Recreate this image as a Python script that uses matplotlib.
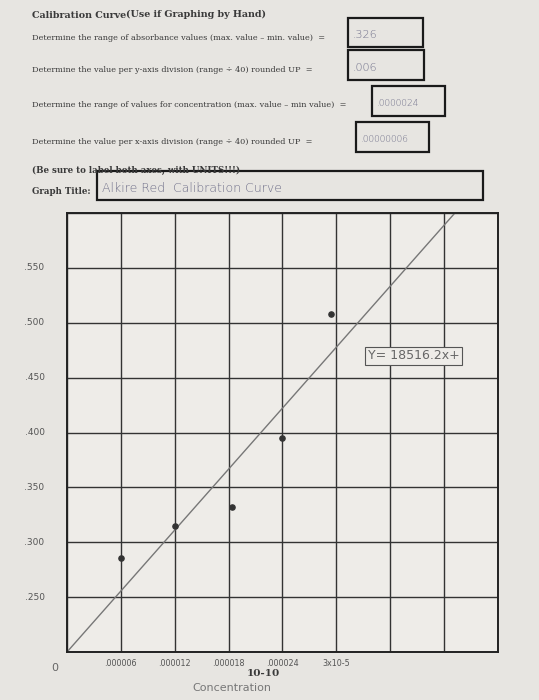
import matplotlib
matplotlib.use("Agg")
import matplotlib.pyplot as plt
from matplotlib.patches import Rectangle

conc = [0.000006, 0.000012, 0.0000184, 0.000024, 0.0000294]
absorb = [0.286, 0.315, 0.332, 0.395, 0.508]
line_x = [0, 0.0000432]
line_y = [0.200, 0.600]
ytick_vals = [0.250, 0.300, 0.350, 0.400, 0.450, 0.500, 0.550]
ytick_labels = [".250", ".300", ".350", ".400", ".450", ".500", ".550"]
xtick_vals = [0.000006, 0.000012, 0.000018, 0.000024, 0.000030]
xtick_labels = [".000006", ".000012", ".000018", ".000024", "3x10-5"]

W, H = 539, 700
fig = plt.figure(figsize=(5.39, 7.0), dpi=100)
fig.patch.set_facecolor("#e7e5e1")

def fx(px): return px / W
def fy(py): return 1 - py / H

serif = "DejaVu Serif"
hand = "DejaVu Sans"
tc = "#3a3a3a"
fig.text(fx(32), fy(15), "Calibration Curve", fontsize=6.8, family=serif, weight="bold", color=tc, va="center")
fig.text(fx(126), fy(14), "(Use if Graphing by Hand)", fontsize=6.8, family=serif, weight="bold", color=tc, va="center")
rows = [(38, "Determine the range of absorbance values (max. value \u2013 min. value)  ="),
        (70, "Determine the value per y-axis division (range \u00f7 40) rounded UP  ="),
        (105, "Determine the range of values for concentration (max. value \u2013 min value)  ="),
        (142, "Determine the value per x-axis division (range \u00f7 40) rounded UP  ="),
        (170, "(Be sure to label both axes, with UNITS!!!)"),
        (192, "Graph Title:")]
for y, t in rows:
    b = y >= 170
    fig.text(fx(32), fy(y), t, fontsize=6.2 if b else 5.9, family=serif, color=tc, va="center",
             weight="bold" if b else "normal")

boxes = [(348, 18, 75, 29, ".326"), (348, 50, 76, 30, ".006"),
         (372, 86, 73, 30, ".0000024"), (356, 122, 73, 30, ".00000006"),
         (97, 171, 386, 29, "Alkire Red  Calibration Curve")]
for x, y, w, h, t in boxes:
    fig.patches.append(Rectangle((fx(x), fy(y + h)), w / W, h / H, transform=fig.transFigure,
                                 fill=False, lw=1.6, ec="#1a1a1a"))
    fs = 9 if len(t) > 12 else (8 if len(t) < 6 else 6.5)
    fig.text(fx(x + 5), fy(y + h * 0.6), t, fontsize=fs, family=hand,
             color="#70708a", va="center", weight="light")

ax = fig.add_axes([fx(67), fy(652), (498 - 67) / W, (652 - 213) / H])
ax.set_facecolor("#eeece8")
ax.set_xlim(0, 0.000048)
ax.set_ylim(0.2, 0.6)
ax.set_xticks([i * 0.000006 for i in range(9)])
ax.set_yticks([0.2 + i * 0.05 for i in range(9)])
ax.grid(True, color="#333333", lw=1.0)
ax.tick_params(length=0, labelbottom=False, labelleft=False)
for s in ax.spines.values():
    s.set_linewidth(1.4); s.set_color("#222222")
ax.plot(line_x, line_y, color="#777777", lw=1.0)
ax.scatter(conc, absorb, s=14, color="#333333", zorder=3)
ax.text(0.0000335, 0.470, "Y= 18516.2x+", fontsize=9, family=hand, color="#666666", va="center",
        bbox=dict(boxstyle="square,pad=0.2", fc="#eeece8", ec="#555555", lw=0.8))

for v, l in zip(ytick_vals, ytick_labels):
    ax.text(-0.0000025, v, l, fontsize=6.5, family=hand, color="#555555", ha="right", va="center")
for v, l in zip(xtick_vals, xtick_labels):
    ax.text(v, 0.194, l, fontsize=5.8, family=hand, color="#555555", ha="center", va="top")
ax.text(-0.000001, 0.190, "0", fontsize=8, family=hand, color="#666666", ha="right", va="top")
fig.text(fx(263), fy(673), "10-10", fontsize=7.5, family=serif, weight="bold", color=tc, ha="center", va="center")
fig.text(fx(232), fy(688), "Concentration", fontsize=8, family=hand, color="#777777", ha="center", va="center")

fig.savefig("out.png", dpi=100, facecolor=fig.get_facecolor())
